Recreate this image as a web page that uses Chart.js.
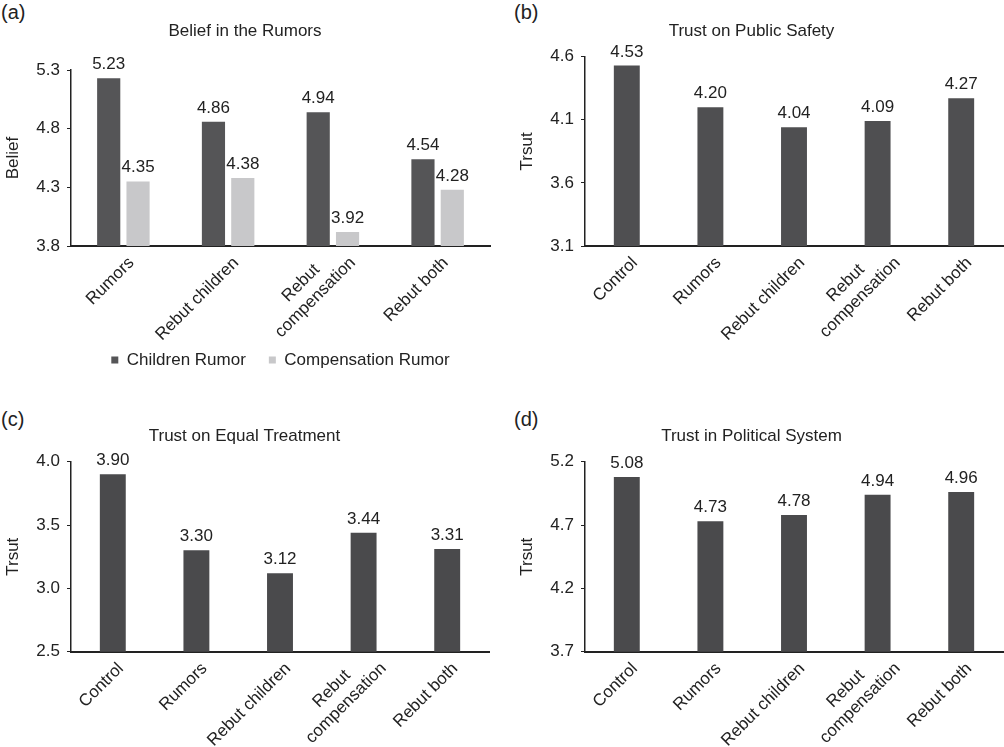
<!DOCTYPE html>
<html>
<head>
<meta charset="utf-8">
<script src="https://cdn.jsdelivr.net/npm/chart.js@4.4.1/dist/chart.umd.min.js"></script>
<style>
  html, body { margin: 0; padding: 0; background: #fff; }
  body { width: 1004px; height: 747px; position: relative; overflow: hidden; font-family: "Liberation Sans", Arial, sans-serif; }
  canvas { position: absolute; }
  .tag { position: absolute; font-size: 20px; line-height: 20px; color: #222; font-family: "Liberation Sans", Arial, sans-serif; }
</style>
</head>
<body>
<div class="tag" style="left:1px; top:2px;">(a)</div>
<div class="tag" style="left:514px; top:2px;">(b)</div>
<div class="tag" style="left:1px; top:409px;">(c)</div>
<div class="tag" style="left:514px; top:409px;">(d)</div>
<canvas id="cA" width="500" height="380" style="left:0; top:0;"></canvas>
<canvas id="cB" width="504" height="380" style="left:500px; top:0;"></canvas>
<canvas id="cC" width="500" height="367" style="left:0; top:380px;"></canvas>
<canvas id="cD" width="504" height="367" style="left:500px; top:380px;"></canvas>
<script>
// ---- data ----
const beliefCategories = ['Rumors', 'Rebut children', ['Rebut', 'compensation'], 'Rebut both'];
const childrenRumor = [5.23, 4.86, 4.94, 4.54];
const compensationRumor = [4.35, 4.38, 3.92, 4.28];
const beliefTicks = [3.8, 4.3, 4.8, 5.3];

const trustCategories = ['Control', 'Rumors', 'Rebut children', ['Rebut', 'compensation'], 'Rebut both'];
const publicSafety = [4.53, 4.20, 4.04, 4.09, 4.27];
const publicSafetyTicks = [3.1, 3.6, 4.1, 4.6];
const equalTreatment = [3.90, 3.30, 3.12, 3.44, 3.31];
const equalTreatmentTicks = [2.5, 3.0, 3.5, 4.0];
const politicalSystem = [5.08, 4.73, 4.78, 4.94, 4.96];
const politicalSystemTicks = [3.7, 4.2, 4.7, 5.2];

// ---- styling ----
const FONT = '"Liberation Sans", Arial, sans-serif';
const TXT = '#222';
Chart.defaults.font.family = FONT;
Chart.defaults.font.size = 17;
Chart.defaults.color = TXT;

const valueLabels = {
  id: 'valueLabels',
  afterDatasetsDraw(chart) {
    const ctx = chart.ctx;
    ctx.save();
    ctx.font = '17px ' + FONT;
    ctx.fillStyle = TXT;
    ctx.textAlign = 'center';
    ctx.textBaseline = 'alphabetic';
    chart.data.datasets.forEach((ds, di) => {
      const meta = chart.getDatasetMeta(di);
      meta.data.forEach((el, i) => {
        ctx.fillText(ds.data[i].toFixed(2), el.x, el.y - 9);
      });
    });
    ctx.restore();
  }
};

// centre the lines of multi-line rotated category labels (as in the original figure)
const centerMultiline = {
  id: 'centerMultiline',
  beforeDraw(chart) {
    const s = chart.scales.x;
    const items = s.getLabelItems();
    const ctx = chart.ctx;
    items.forEach(it => {
      if (!Array.isArray(it.label) || it._adj) return;
      ctx.save();
      ctx.font = it.font.string;
      const maxW = Math.max(...it.label.map(l => ctx.measureText(l).width));
      ctx.restore();
      const r = it.options.rotation;
      const ux = Math.cos(r), uy = Math.sin(r);
      const vx = -Math.sin(r), vy = Math.cos(r);
      const a = 8.5 - maxW / 2, p = -12;
      const t = it.options.translation;
      it.options.translation = [t[0] + ux * a + vx * p, t[1] + uy * a + vy * p];
      it.options.textAlign = 'center';
      it._adj = true;
    });
  }
};

function makeChart(id, o) {
  return new Chart(document.getElementById(id), {
    type: 'bar',
    data: { labels: o.labels, datasets: o.datasets },
    options: {
      responsive: false,
      animation: false,
      devicePixelRatio: 1,
      layout: { padding: { left: 0, right: o.padRight, top: 0, bottom: o.padBottom || 0 } },
      plugins: {
        title: {
          display: true, text: o.title, color: TXT,
          font: { size: 17, weight: 'normal' },
          padding: { top: o.titleTop, bottom: o.titleBottom }
        },
        legend: o.legend ? {
          display: true, position: 'bottom', fullSize: false,
          labels: { boxWidth: 7, boxHeight: 7, padding: 23, color: TXT, font: { size: 17 } }
        } : { display: false },
        tooltip: { enabled: false }
      },
      scales: {
        x: {
          grid: { display: false },
          border: { display: true, color: TXT, width: 2 },
          ticks: { color: TXT, font: { size: 17 }, maxRotation: 45, minRotation: 45, padding: -1, labelOffset: 8, autoSkip: false },
          afterFit: s => { s.height = o.xHeight; s._computeLabelArea = () => undefined; }
        },
        y: {
          min: o.ticks[0], max: o.ticks[o.ticks.length - 1],
          afterBuildTicks: s => { s.ticks = o.ticks.map(v => ({ value: v })); },
          grid: { display: true, drawOnChartArea: false, drawTicks: true, tickLength: 4, color: TXT, lineWidth: 1 },
          border: { display: true, color: TXT, width: 1.5 },
          ticks: { color: TXT, font: { size: 17 }, padding: 7, callback: v => Number(v).toFixed(1) },
          title: { display: true, text: o.yTitle, color: TXT, font: { size: 17 }, padding: { top: o.yTitlePad, bottom: 0 } },
          afterFit: s => { s.width = o.yWidth; }
        }
      }
    },
    plugins: [valueLabels, centerMultiline]
  });
}

makeChart('cA', {
  labels: beliefCategories,
  datasets: [
    { label: 'Children Rumor', data: childrenRumor, backgroundColor: '#555557', borderWidth: 0, categoryPercentage: 0.56, barPercentage: 0.79 },
    { label: 'Compensation Rumor', data: compensationRumor, backgroundColor: '#c8c8ca', borderWidth: 0, categoryPercentage: 0.56, barPercentage: 0.79 }
  ],
  title: 'Belief in the Rumors', titleTop: 21, titleBottom: 28.6,
  ticks: beliefTicks, yTitle: 'Belief', yTitlePad: 2.8, yWidth: 71,
  padRight: 10, padBottom: 1.5, xHeight: 82.5, legend: true
});

makeChart('cB', {
  labels: trustCategories,
  datasets: [{ label: 'Trust', data: publicSafety, backgroundColor: '#4f4f51', borderWidth: 0, categoryPercentage: 1, barPercentage: 0.31 }],
  title: 'Trust on Public Safety', titleTop: 21, titleBottom: 15.3,
  ticks: publicSafetyTicks, yTitle: 'Trsut', yTitlePad: 16.8, yWidth: 85,
  padRight: 1, xHeight: 134, legend: false
});

makeChart('cC', {
  labels: trustCategories,
  datasets: [{ label: 'Trust', data: equalTreatment, backgroundColor: '#4a4a4c', borderWidth: 0, categoryPercentage: 1, barPercentage: 0.31 }],
  title: 'Trust on Equal Treatment', titleTop: 45.8, titleBottom: 15.5,
  ticks: equalTreatmentTicks, yTitle: 'Trsut', yTitlePad: 2.8, yWidth: 71,
  padRight: 11, xHeight: 95.3, legend: false
});

makeChart('cD', {
  labels: trustCategories,
  datasets: [{ label: 'Trust', data: politicalSystem, backgroundColor: '#4a4a4c', borderWidth: 0, categoryPercentage: 1, barPercentage: 0.31 }],
  title: 'Trust in Political System', titleTop: 45.8, titleBottom: 15.5,
  ticks: politicalSystemTicks, yTitle: 'Trsut', yTitlePad: 16.8, yWidth: 85,
  padRight: 1, xHeight: 95.3, legend: false
});
</script>
</body>
</html>
